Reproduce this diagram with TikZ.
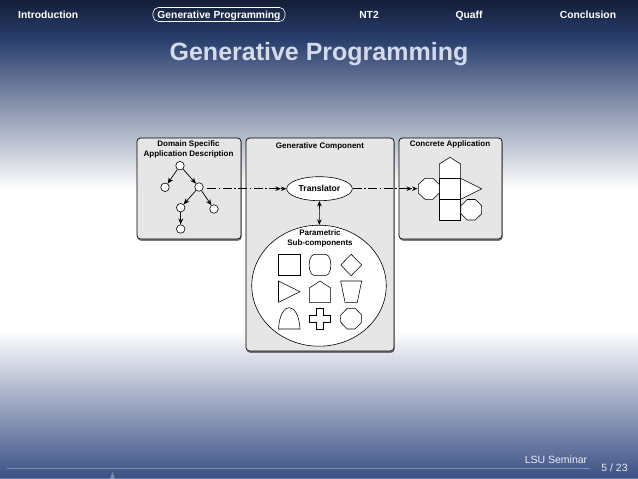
\documentclass[tikz,border=0pt]{standalone}
\usepackage{fontspec}
\setmainfont{Liberation Sans}
\usetikzlibrary{arrows.meta,shadows,calc,shapes.geometric}
\definecolor{panelfill}{HTML}{E6E6E6}
\definecolor{titlecol}{HTML}{D3DAEA}
\definecolor{bgtop}{HTML}{141E38}
\definecolor{bgnav}{HTML}{2A3F6E}
\definecolor{bgbot}{HTML}{3A4F85}
\tikzset{
  x=1pt,y=-1pt,
  panel/.style={draw=black,line width=0.7pt,fill=panelfill,rounded corners=3.5pt,drop shadow={shadow xshift=0.6pt,shadow yshift=-1.8pt,fill=black,opacity=0.5}},
  shapeline/.style={draw=black,line width=0.55pt,fill=white,line join=miter},
  tn/.style={circle,draw=black,line width=0.6pt,fill=white,inner sep=0pt,minimum size=8.5pt},
  tarrow/.style={-{Stealth[length=6pt,width=5pt]},line width=0.7pt},
  dd/.style={line width=0.6pt,dash pattern=on 9pt off 2.5pt on 1.5pt off 2.5pt,-{Stealth[length=5.5pt,width=4.5pt]Stealth[length=5.5pt,width=4.5pt]}},
  navtext/.style={text=white,font=\fontsize{10.3}{12}\selectfont\bfseries,inner sep=0pt,anchor=base},
  ptext/.style={text=black,font=\fontsize{8}{10}\selectfont\bfseries,align=center,inner sep=0pt},
}
\begin{document}
\begin{tikzpicture}
\useasboundingbox (0,0) rectangle (638,479);
\shade[top color=bgtop,bottom color=bgnav] (0,0) rectangle (638,40);
\shade[top color=bgnav,bottom color=white] (0,39.5) rectangle (638,190);
\fill[white] (0,189.5) rectangle (638,330.5);
\shade[top color=white,bottom color=bgbot] (0,330) rectangle (638,479);
\fill[white!25!bgbot] (0,478) rectangle (638,479);
\draw[white!35!bgbot,line width=0.4pt] (7,468) -- (590,468);
\node[navtext,anchor=base west] (n1) at (18,18) {Introduction};
\node[navtext] (n2) at (219,18) {Generative Programming};
\draw[white,line width=0.6pt,rounded corners=5.5pt] (153,7.5) rectangle (285,21.5);
\node[navtext] (n3) at (369,18) {NT2};
\node[navtext] (n4) at (469,18) {Quaff};
\node[navtext] (n5) at (588,18) {Conclusion};
\node[text=titlecol,font=\fontsize{25}{28}\selectfont\bfseries,inner sep=0pt,anchor=base] (title) at (319,60) {Generative Programming};
\node[text=white!90!bgbot,font=\fontsize{10.5}{12}\selectfont,inner sep=0pt,anchor=base] (sem) at (556,463) {LSU Seminar};
\node[text=white!90!bgbot,font=\fontsize{10.5}{12}\selectfont,inner sep=0pt,anchor=base] (pg) at (614.5,471) {5 / 23};
\fill[white!35!bgbot] (110,479) -- (112.5,472) -- (115,479) -- cycle;
% panels
\draw[panel] (137,138) rectangle (241,239);
\draw[panel] (246,138) rectangle (394,351);
\draw[panel] (399,138) rectangle (502,239);
\node[ptext] (t1) at (188.5,149.2) {Domain Specific\\Application Description};
\node[ptext] (t2) at (320,146.2) {Generative Component};
\node[ptext] (t3) at (450,144.2) {Concrete Application};
% tree
\node[tn] (a) at (180,165.7) {};
\node[tn] (b) at (165,187.3) {};
\node[tn] (c) at (199,187) {};
\node[tn] (d) at (180.7,207.7) {};
\node[tn] (e) at (214,209) {};
\node[tn] (f) at (180.7,229) {};
\draw[tarrow] (a) -- (b);
\draw[tarrow] (a) -- (c);
\draw[tarrow] (c) -- (d);
\draw[tarrow] (c) -- (e);
\draw[tarrow] (d) -- (f);
% translator
\node[ellipse,draw=black,line width=0.6pt,fill=white,minimum width=65.6pt,minimum height=24pt,inner sep=0pt,font=\fontsize{8.6}{10}\selectfont\bfseries] (tr) at (319.5,188.7) {Translator};
\coordinate (src) at (207,188.7);
\coordinate (tgt) at (417.5,188.7);
\draw[dd] (src) -- (tr.west);
\draw[dd] (tr.east) -- (tgt);
\node[ellipse,draw=black,line width=0.6pt,fill=white,minimum width=134.5pt,minimum height=121pt,inner sep=0pt] (pc) at (319,285.7) {};
\draw[{Stealth[length=5.5pt,width=4.6pt]}-{Stealth[length=5.5pt,width=4.6pt]},line width=0.7pt] (tr) -- (pc);
\node[ptext] (t4) at (320,238) {Parametric\\Sub-components};
% subcomponents
\draw[shapeline] (278.5,254.3) rectangle (300,275.7);
\draw[shapeline,rounded corners=2pt] (312.5,254.3) .. controls (308.3,261) and (308.3,269) .. (312.5,275.7) -- (327.5,275.7) .. controls (331.7,269) and (331.7,261) .. (327.5,254.3) -- cycle;
\draw[shapeline] (351.2,254.3) -- (361.7,265) -- (351.2,275.7) -- (340.7,265) -- cycle;
\draw[shapeline] (278.5,281) -- (300,291.7) -- (278.5,302.3) -- cycle;
\draw[shapeline] (309.3,288) -- (320,281) -- (330.7,288) -- (330.7,302.3) -- (309.3,302.3) -- cycle;
\draw[shapeline] (340.7,281) -- (361.7,281) -- (357.3,302.3) -- (345,302.3) -- cycle;
\draw[shapeline] (278.5,329) .. controls (280,300.5) and (298.5,300.5) .. (300,329) -- cycle;
\draw[shapeline] (316.5,308.3) -- (323.5,308.3) -- (323.5,315) -- (330.7,315) -- (330.7,322.3) -- (323.5,322.3) -- (323.5,329) -- (316.5,329) -- (316.5,322.3) -- (309.3,322.3) -- (309.3,315) -- (316.5,315) -- cycle;
\draw[shapeline] (347.3,308.3) -- (355,308.3) -- (361.7,315) -- (361.7,322.3) -- (355,329) -- (347.3,329) -- (340.7,322.3) -- (340.7,315) -- cycle;
% concrete
\draw[shapeline] (439.3,178.3) -- (439.3,164) -- (450,157.3) -- (460.7,164) -- (460.7,178.3) -- cycle;
\draw[shapeline] (439.3,178.3) rectangle (460.7,199.3);
\draw[shapeline] (439.3,199.3) rectangle (460.7,220);
\draw[shapeline] (460.7,178.3) -- (481.7,188.8) -- (460.7,199.3) -- cycle;
\draw[shapeline] (425,178.3) -- (433,178.3) -- (439.3,184.5) -- (439.3,193) -- (433,199.3) -- (425,199.3) -- (418.3,193) -- (418.3,184.5) -- cycle;
\draw[shapeline] (467.3,199.5) -- (475.3,199.5) -- (481.7,205.7) -- (481.7,213.7) -- (475.3,220) -- (467.3,220) -- (460.9,213.7) -- (460.9,205.7) -- cycle;
\end{tikzpicture}
\end{document}
